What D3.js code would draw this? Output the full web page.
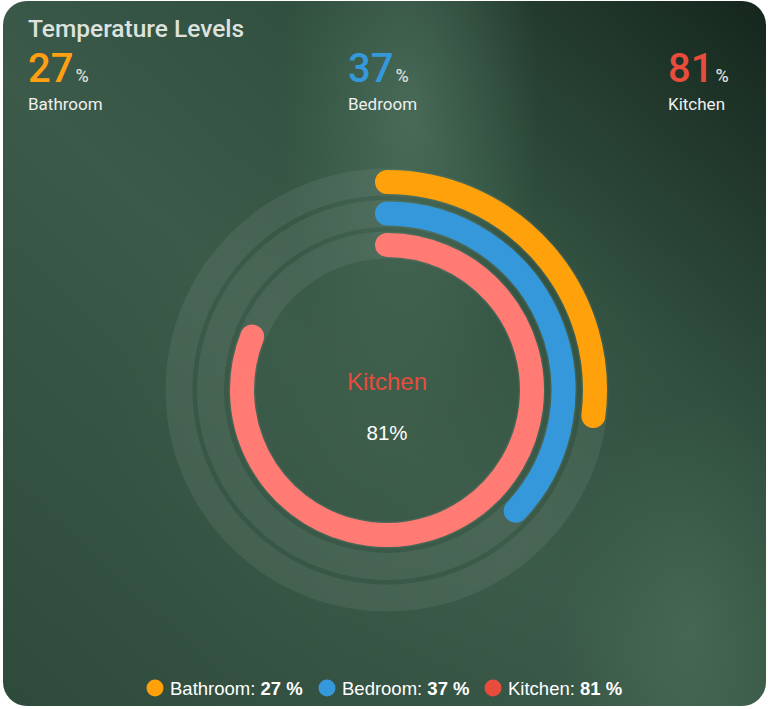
<!DOCTYPE html>
<html>
<head>
<meta charset="utf-8">
<script src="https://cdn.jsdelivr.net/npm/d3@7"></script>
<style>
  html, body { margin: 0; padding: 0; background: #fff; }
  svg { display: block; }
</style>
</head>
<body>
<svg id="chart"></svg>
<script>
// data
const categories = ['Bathroom', 'Bedroom', 'Kitchen'];
const values = [27, 37, 81];
const statColors = ['#ff9f12', '#3498db', '#e74c3c'];
const barColors = ['#ffa10a', '#3498db', '#ff7b73'];
const legendColors = ['#ffa10a', '#3498db', '#e74c3c'];
const title = 'Temperature Levels';
const focus = 2; // series shown in the middle

const W = 768, H = 709;
const cx = 387, cy = 390;

const svg = d3.select('#chart').attr('width', W).attr('height', H);
const defs = svg.append('defs');

// background gradients
const base = defs.append('linearGradient').attr('id', 'bg')
  .attr('x1', '0%').attr('y1', '100%').attr('x2', '100%').attr('y2', '0%');
base.append('stop').attr('offset', '0%').attr('stop-color', '#2e4a3b');
base.append('stop').attr('offset', '45%').attr('stop-color', '#3b5a49');
base.append('stop').attr('offset', '68%').attr('stop-color', '#31503f');
base.append('stop').attr('offset', '100%').attr('stop-color', '#15261c');

function glow(id, color, op) {
  const g = defs.append('radialGradient').attr('id', id);
  g.append('stop').attr('offset', '0%').attr('stop-color', color).attr('stop-opacity', op);
  g.append('stop').attr('offset', '100%').attr('stop-color', color).attr('stop-opacity', 0);
}
glow('g1', '#5f8570', 0.5);
glow('g2', '#587d68', 0.4);
glow('g3', '#42634f', 0.4);

defs.append('clipPath').attr('id', 'card')
  .append('rect').attr('x', 3).attr('y', 1).attr('width', 763).attr('height', 705).attr('rx', 24);

const card = svg.append('g').attr('clip-path', 'url(#card)');
card.append('rect').attr('width', W).attr('height', H).attr('fill', 'url(#bg)');
card.append('ellipse').attr('cx', 410).attr('cy', 110).attr('rx', 130).attr('ry', 320).attr('fill', 'url(#g1)');
card.append('ellipse').attr('cx', 690).attr('cy', 630).attr('rx', 130).attr('ry', 230).attr('fill', 'url(#g2)');
card.append('ellipse').attr('cx', 390).attr('cy', 420).attr('rx', 280).attr('ry', 280).attr('fill', 'url(#g3)');

// title + stats
svg.append('text').attr('x', 28).attr('y', 37)
  .attr('font-family', 'Roboto').attr('font-size', 24.5).attr('font-weight', 500)
  .attr('fill', '#dde2df').text(title);

const statX = d3.scalePoint().domain(categories).range([28, 668]);

const stats = svg.selectAll('g.stat').data(categories).join('g')
  .attr('class', 'stat')
  .attr('transform', d => `translate(${statX(d)},0)`);

const num = stats.append('text').attr('y', 82).attr('font-family', 'Roboto');
num.append('tspan').attr('font-size', 40).attr('font-weight', 500)
  .attr('fill', (d, i) => statColors[i]).text((d, i) => values[i]);
num.append('tspan').attr('dx', 2).attr('font-size', 18).attr('font-weight', 500)
  .attr('fill', '#d6dbd8').text('%');
stats.append('text').attr('y', 110).attr('font-family', 'Roboto').attr('font-size', 17)
  .attr('fill', '#eef0ee').text(d => d);

// radial bars
const angle = d3.scaleLinear().domain([0, 100]).range([0, 2 * Math.PI]);
const ring = d3.scalePoint().domain(categories).range([208, 145]);
const trackW = 27, barW = 24;

const chart = svg.append('g').attr('transform', `translate(${cx},${cy})`);

const trackArc = d3.arc()
  .innerRadius(d => ring(d) - trackW / 2)
  .outerRadius(d => ring(d) + trackW / 2)
  .startAngle(0).endAngle(2 * Math.PI);

chart.selectAll('path.track').data(categories).join('path')
  .attr('class', 'track')
  .attr('d', trackArc)
  .attr('fill', '#ffffff').attr('fill-opacity', 0.065);

// bars as stroked arcs with round caps
function barPath(v, i) {
  const p = d3.path();
  const r = ring(categories[i]);
  p.arc(0, 0, r, -Math.PI / 2, angle(v) - Math.PI / 2);
  return p.toString();
}

chart.selectAll('path.bar').data(values).join('path')
  .attr('class', 'bar')
  .attr('d', barPath)
  .attr('fill', 'none')
  .attr('stroke', (d, i) => barColors[i])
  .attr('stroke-width', barW)
  .attr('stroke-linecap', 'round');

// center labels
chart.append('text').attr('y', 0).attr('text-anchor', 'middle')
  .attr('font-family', 'Liberation Sans, Arial').attr('font-size', 24)
  .attr('fill', statColors[focus]).text(categories[focus]);
chart.append('text').attr('y', 50).attr('text-anchor', 'middle')
  .attr('font-family', 'Liberation Sans, Arial').attr('font-size', 20.5)
  .attr('fill', '#ffffff').text(values[focus] + '%');

// legend
const legendX = [155, 327, 493];
const legend = svg.selectAll('g.legend').data(categories).join('g')
  .attr('class', 'legend')
  .attr('transform', (d, i) => `translate(${legendX[i]},688)`);
legend.append('circle').attr('r', 8.5).attr('fill', (d, i) => legendColors[i]);
const lt = legend.append('text').attr('x', 15).attr('y', 6.5)
  .attr('font-family', 'Liberation Sans, Arial').attr('font-size', 18.5).attr('fill', '#ffffff');
lt.append('tspan').text(d => d + ': ');
lt.append('tspan').attr('font-weight', 'bold').text((d, i) => values[i] + ' %');
</script>
</body>
</html>
